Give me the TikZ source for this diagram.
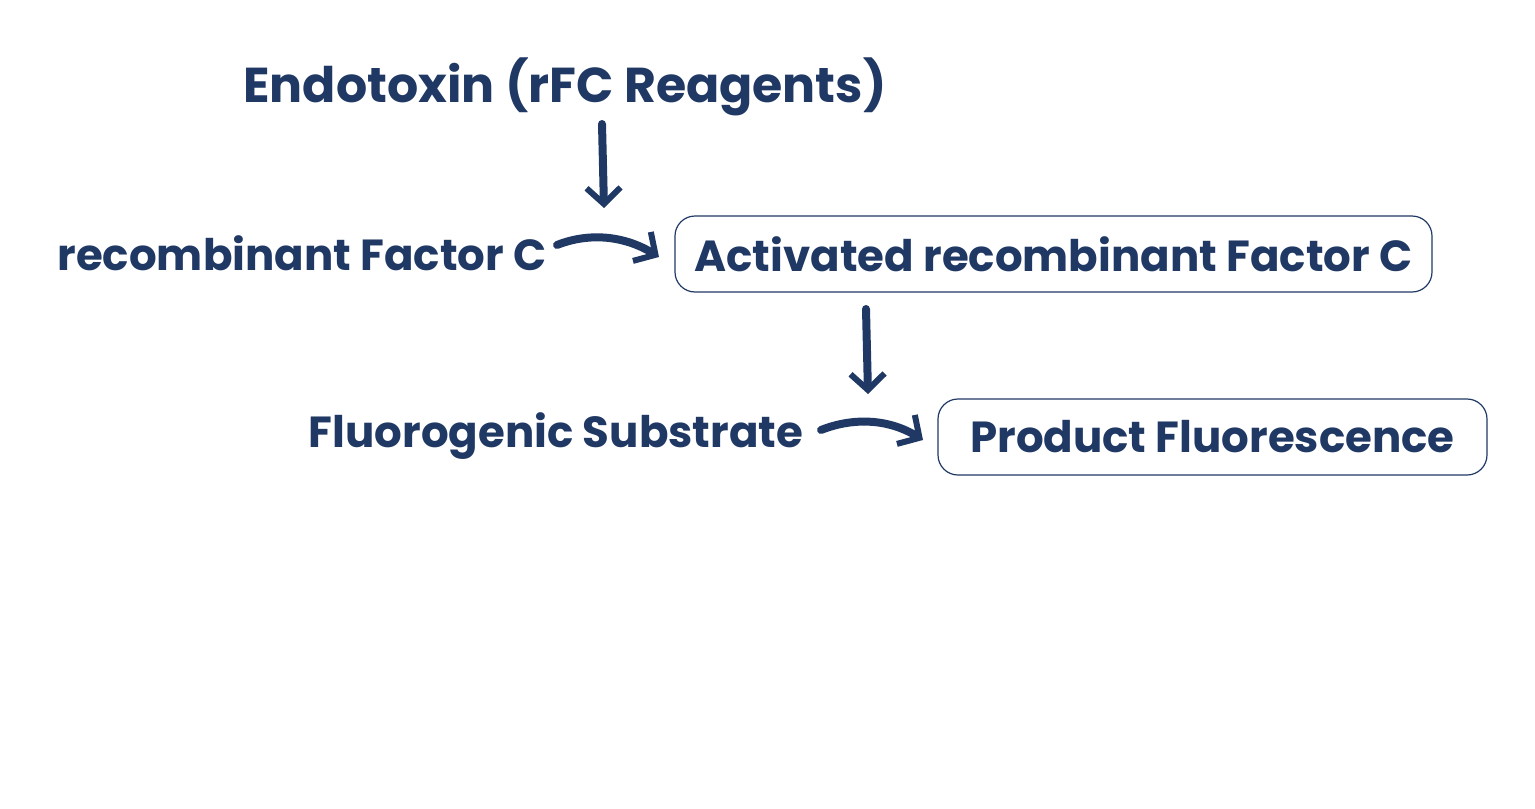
\documentclass[tikz,border=0pt]{standalone}
\usepackage{fontspec}
\setmainfont{Poppins}
\usetikzlibrary{arrows.meta}
\definecolor{navy}{HTML}{1F3864}
\begin{document}
\begin{tikzpicture}[x=1pt,y=-1pt,
  lbl/.style={text=navy,font=\fontsize{43.5}{45}\selectfont\bfseries,inner sep=0pt},
  rbox/.style={draw=navy,line width=1.2pt,rounded corners=20pt,minimum height=76pt},
  arr/.style={draw=navy,line width=8pt,line cap=round,-{Straight Barb[length=16pt,width=34pt,line width=6pt]}}]
\useasboundingbox (0,0) rectangle (1535,809);
\node[lbl,font=\fontsize{49}{51}\selectfont\bfseries] (endo) at (565,87) {Endotoxin (rFC Reagents)};
\node[lbl] (rfc) at (302,253) {recombinant Factor C};
\node[rbox,minimum width=757pt] (act) at (1053.5,254) {};
\node[lbl] at (act) {Activated recombinant Factor C};
\node[lbl] (fs) at (556,436) {Fluorogenic Substrate};
\node[rbox,minimum width=549pt] (prod) at (1212.5,437) {};
\node[lbl] at (prod) {Product Fluorescence};
\coordinate (a1) at (602,124); \coordinate (a2) at (604,208);
\draw[arr] (a1) -- (a2);
\coordinate (b1) at (557,245); \coordinate (b2) at (659,257);
\draw[arr] (b1) .. controls (590,232) and (625,236) .. (b2);
\coordinate (c1) at (866,309); \coordinate (c2) at (868,394);
\draw[arr] (c1) -- (c2);
\coordinate (d1) at (821,430); \coordinate (d2) at (923,440);
\draw[arr] (d1) .. controls (854,417) and (889,419) .. (d2);
\end{tikzpicture}
\end{document}
